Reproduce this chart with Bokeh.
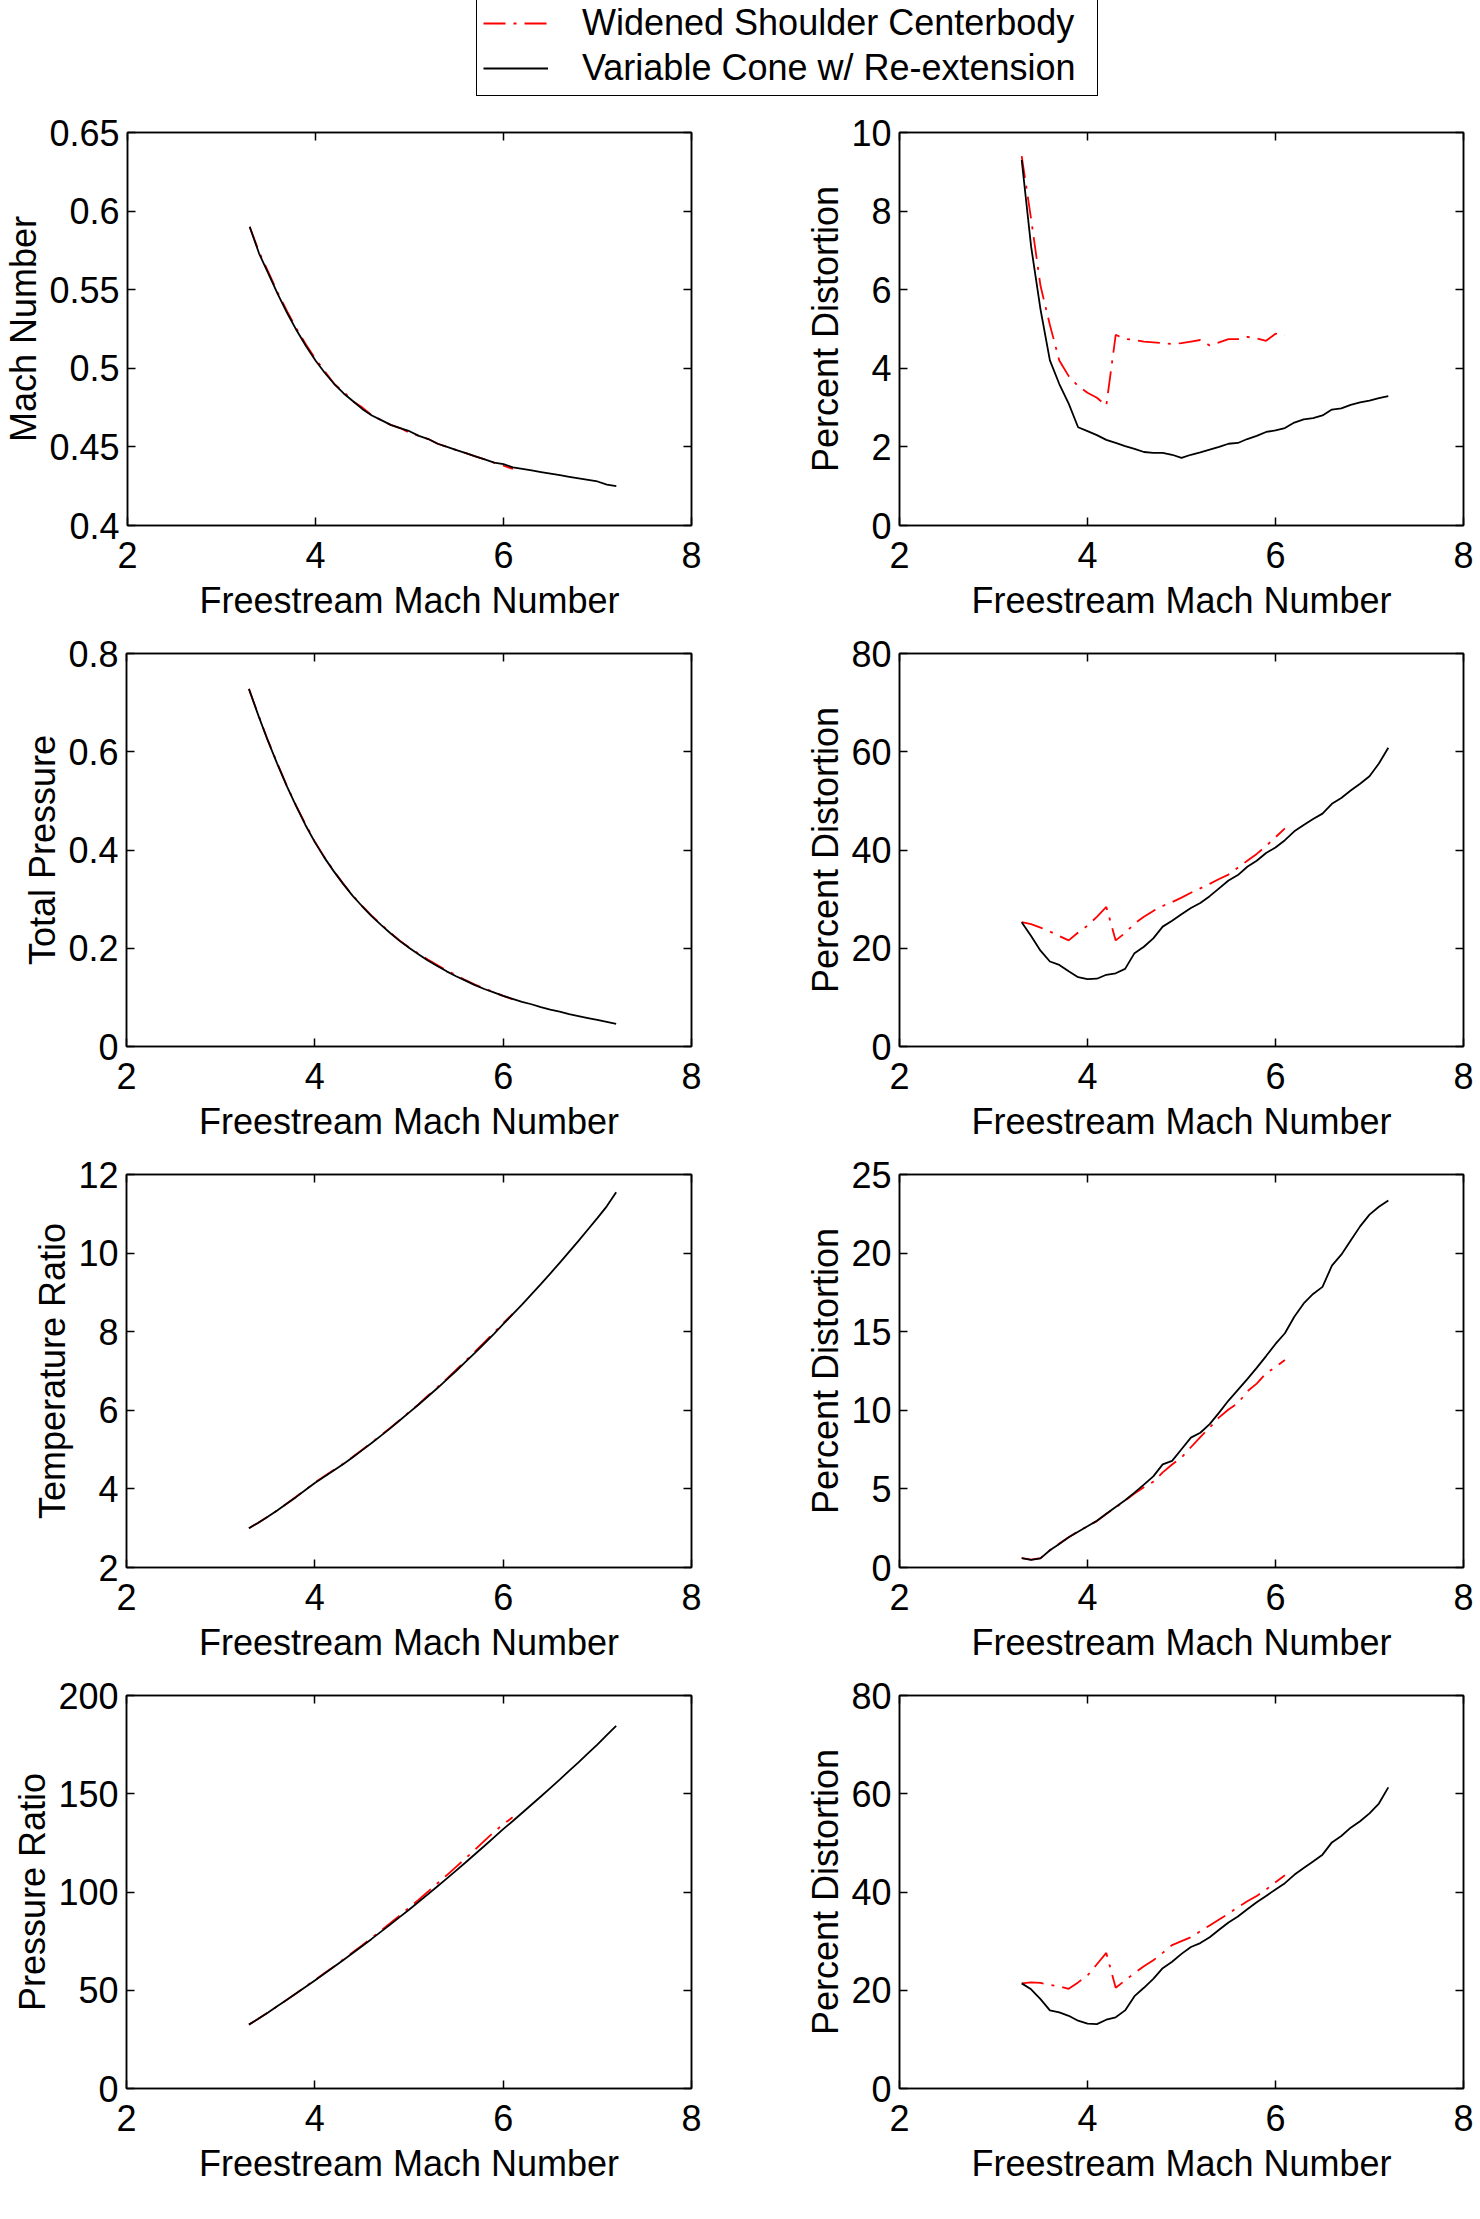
from bokeh.plotting import figure
from bokeh.layouts import column, row
from bokeh.models import (Range1d, FixedTicker, LinearAxis, CustomJSTickFormatter,
                          CustomLabelingPolicy, Legend, LegendItem)
from bokeh.embed import file_html
from bokeh.resources import INLINE

FONT = "Liberation Sans"
FONT_SIZE = "36px"
RED_DASH = "22 8 3 8"
LINE_W = 1.8

# Freestream Mach numbers for each centerbody configuration
mach_ws = [3.3, 3.4, 3.5, 3.6, 3.7, 3.8, 3.9, 4.0, 4.1, 4.2, 4.3, 4.4, 4.5, 4.6, 4.7,
           4.8, 4.9, 5.0, 5.1, 5.2, 5.3, 5.4, 5.5, 5.6, 5.7, 5.8, 5.9, 6.0, 6.1]
mach_vc = [3.3, 3.4, 3.5, 3.6, 3.7, 3.8, 3.9, 4.0, 4.1, 4.2, 4.3, 4.4, 4.5, 4.6, 4.7,
           4.8, 4.9, 5.0, 5.1, 5.2, 5.3, 5.4, 5.5, 5.6, 5.7, 5.8, 5.9, 6.0, 6.1, 6.2,
           6.3, 6.4, 6.5, 6.6, 6.7, 6.8, 6.9, 7.0, 7.1, 7.2]

# Exit Mach number
mach_exit_ws = [0.590, 0.574, 0.561, 0.548, 0.536, 0.525, 0.515, 0.506, 0.498, 0.490,
                0.485, 0.479, 0.475, 0.470, 0.467, 0.464, 0.462, 0.459, 0.457, 0.455,
                0.452, 0.450, 0.448, 0.446, 0.444, 0.442, 0.440, 0.438, 0.436]
mach_exit_vc = [0.590, 0.573, 0.560, 0.547, 0.535, 0.524, 0.514, 0.505, 0.497, 0.490,
                0.484, 0.479, 0.474, 0.470, 0.467, 0.464, 0.462, 0.460, 0.457, 0.455,
                0.452, 0.450, 0.448, 0.446, 0.444, 0.442, 0.440, 0.439, 0.437, 0.436,
                0.435, 0.434, 0.433, 0.432, 0.431, 0.430, 0.429, 0.428, 0.426, 0.425]
mach_dist_ws = [9.40, 7.80, 6.10, 5.10, 4.20, 3.80, 3.55, 3.38, 3.25, 3.05, 4.85, 4.75,
                4.72, 4.68, 4.66, 4.64, 4.62, 4.64, 4.68, 4.72, 4.58, 4.66, 4.74, 4.74,
                4.80, 4.76, 4.70, 4.88, 4.84]
mach_dist_vc = [9.30, 7.10, 5.50, 4.20, 3.60, 3.10, 2.50, 2.40, 2.30, 2.18, 2.10, 2.02,
                1.95, 1.87, 1.85, 1.85, 1.80, 1.72, 1.80, 1.86, 1.93, 2.00, 2.08, 2.10,
                2.20, 2.28, 2.38, 2.42, 2.48, 2.62, 2.70, 2.73, 2.80, 2.95, 2.98, 3.07,
                3.13, 3.18, 3.24, 3.29]

# Total pressure recovery
ptot_ws = [0.728, 0.675, 0.624, 0.577, 0.532, 0.491, 0.453, 0.417, 0.386, 0.358, 0.332,
           0.308, 0.287, 0.267, 0.249, 0.232, 0.216, 0.202, 0.189, 0.177, 0.166, 0.155,
           0.145, 0.135, 0.126, 0.118, 0.111, 0.103, 0.096]
ptot_vc = [0.728, 0.674, 0.623, 0.576, 0.531, 0.490, 0.451, 0.416, 0.385, 0.357, 0.331,
           0.307, 0.286, 0.266, 0.248, 0.231, 0.215, 0.201, 0.188, 0.175, 0.164, 0.153,
           0.143, 0.134, 0.125, 0.117, 0.110, 0.103, 0.097, 0.091, 0.086, 0.080, 0.075,
           0.071, 0.066, 0.062, 0.058, 0.054, 0.050, 0.046]
ptot_dist_ws = [25.3, 24.9, 24.2, 23.4, 22.5, 21.6, 23.2, 24.6, 26.4, 28.4, 21.6, 23.1,
                25.0, 26.4, 27.6, 28.6, 29.4, 30.3, 31.3, 32.2, 33.1, 34.1, 35.0, 36.4,
                37.8, 39.2, 40.8, 42.6, 44.4]
ptot_dist_vc = [25.3, 22.5, 19.5, 17.3, 16.6, 15.3, 14.1, 13.7, 13.8, 14.6, 14.9, 15.8,
                19.0, 20.3, 22.0, 24.4, 25.6, 26.9, 28.2, 29.2, 30.6, 32.2, 33.8, 34.9,
                36.6, 37.8, 39.4, 40.5, 42.0, 43.8, 45.1, 46.3, 47.4, 49.4, 50.6, 52.1,
                53.5, 55.0, 57.6, 60.8]

# Static temperature ratio
temp_ws = [3.00, 3.14, 3.29, 3.45, 3.62, 3.80, 3.98, 4.16, 4.32, 4.48, 4.64, 4.81, 4.99,
           5.17, 5.36, 5.55, 5.75, 5.95, 6.15, 6.37, 6.58, 6.80, 7.03, 7.26, 7.49, 7.73,
           7.97, 8.22, 8.45]
temp_vc = [3.00, 3.14, 3.29, 3.45, 3.62, 3.79, 3.97, 4.15, 4.31, 4.47, 4.63, 4.80, 4.98,
           5.16, 5.35, 5.54, 5.74, 5.94, 6.14, 6.35, 6.56, 6.78, 7.00, 7.23, 7.46, 7.70,
           7.94, 8.19, 8.44, 8.69, 8.95, 9.21, 9.48, 9.75, 10.03, 10.31, 10.60, 10.89,
           11.19, 11.55]
temp_dist_ws = [0.60, 0.50, 0.60, 1.10, 1.52, 1.92, 2.30, 2.62, 2.95, 3.40, 3.82, 4.25,
                4.70, 5.10, 5.45, 6.05, 6.55, 7.00, 7.65, 8.30, 8.90, 9.55, 10.05, 10.45,
                11.20, 11.70, 12.35, 12.75, 13.20]
temp_dist_vc = [0.60, 0.48, 0.58, 1.10, 1.50, 1.92, 2.28, 2.62, 2.98, 3.42, 3.85, 4.28,
                4.76, 5.27, 5.80, 6.56, 6.78, 7.52, 8.26, 8.57, 9.12, 9.85, 10.62, 11.30,
                11.98, 12.70, 13.45, 14.22, 14.90, 15.95, 16.80, 17.40, 17.85, 19.20,
                19.90, 20.80, 21.70, 22.45, 22.95, 23.35]

# Static pressure ratio
pres_ws = [32.5, 35.5, 38.6, 41.8, 45.1, 48.4, 51.8, 55.2, 58.6, 62.0, 65.6, 69.2, 72.8,
           76.5, 80.3, 84.1, 88.0, 92.0, 96.0, 100.1, 104.3, 108.5, 112.8, 117.1, 121.5,
           126.0, 130.4, 134.4, 138.0]
pres_vc = [32.5, 35.5, 38.6, 41.8, 45.0, 48.3, 51.6, 55.0, 58.4, 61.8, 65.3, 68.8, 72.4,
           76.0, 79.7, 83.4, 87.2, 91.0, 94.9, 98.8, 102.8, 106.8, 110.9, 115.0, 119.2,
           123.4, 127.7, 132.0, 136.0, 140.2, 144.4, 148.6, 152.9, 157.2, 161.6, 166.0,
           170.5, 175.0, 179.8, 184.6]
pres_dist_ws = [21.4, 21.6, 21.5, 21.1, 20.8, 20.3, 21.6, 23.0, 25.3, 27.6, 20.5, 22.0,
                23.5, 24.9, 26.1, 27.6, 29.2, 30.0, 30.8, 32.0, 33.2, 34.4, 35.6, 36.9,
                38.1, 39.2, 40.5, 42.0, 43.4]
pres_dist_vc = [21.4, 20.2, 18.2, 15.9, 15.5, 14.8, 13.8, 13.2, 13.1, 14.0, 14.5, 15.9,
                18.8, 20.5, 22.3, 24.5, 25.8, 27.4, 28.8, 29.6, 30.8, 32.3, 33.8, 35.0,
                36.5, 37.9, 39.2, 40.5, 41.8, 43.5, 44.9, 46.2, 47.6, 50.1, 51.4, 53.1,
                54.4, 56.0, 58.0, 61.3]

x_ticks = [2, 4, 6, 8]

LABEL_FMT = CustomJSTickFormatter(code="return tick.toString();")
# box-side axes carry tick marks only: the policy keeps none of their labels
NO_LABELS = CustomLabelingPolicy(code="return [];")


def style_axis(ax, ticker, show_labels):
    ax.ticker = ticker
    ax.formatter = LABEL_FMT
    ax.axis_line_color = "black"
    ax.axis_line_width = 1.5
    ax.major_tick_line_color = "black"
    ax.major_tick_line_width = 1.5
    ax.major_tick_in = 8
    ax.major_tick_out = 0
    ax.minor_tick_line_color = None
    ax.major_label_text_font = FONT
    ax.major_label_text_color = "black"
    ax.axis_label_text_font = FONT
    ax.axis_label_text_font_size = FONT_SIZE
    ax.axis_label_text_font_style = "normal"
    ax.axis_label_text_color = "black"
    if show_labels:
        ax.major_label_text_font_size = FONT_SIZE
    else:
        ax.major_label_policy = NO_LABELS
        ax.major_label_text_font_size = "0px"
        ax.major_label_standoff = 0


def panel(ylabel, y_lo, y_hi, y_ticks, ws_vals, vc_vals, left, right):
    p = figure(width=740, height=521, x_range=Range1d(2, 8), y_range=Range1d(y_lo, y_hi),
               output_backend="svg", toolbar_location=None,
               min_border_left=left, min_border_right=right,
               min_border_top=28, min_border_bottom=100,
               background_fill_color="white", border_fill_color="white")
    p.grid.visible = False
    p.outline_line_color = "black"
    p.outline_line_width = 1.5

    xt = FixedTicker(ticks=x_ticks)
    yt = FixedTicker(ticks=y_ticks)
    style_axis(p.xaxis[0], xt, True)
    style_axis(p.yaxis[0], yt, True)
    p.xaxis[0].axis_label = "Freestream Mach Number"
    p.xaxis[0].major_label_standoff = 16
    p.xaxis[0].axis_label_standoff = 9
    p.yaxis[0].axis_label = ylabel
    p.yaxis[0].major_label_standoff = 8
    p.yaxis[0].axis_label_standoff = 2

    top = LinearAxis()
    style_axis(top, xt, False)
    p.add_layout(top, "above")
    rgt = LinearAxis()
    style_axis(rgt, yt, False)
    p.add_layout(rgt, "right")

    p.line(mach_ws, ws_vals, line_color="#ff0000", line_width=LINE_W, line_dash=RED_DASH)
    p.line(mach_vc, vc_vals, line_color="black", line_width=LINE_W)
    return p


L1, R1 = 126, 49
L2, R2 = 159, 17

p1 = panel("Mach Number", 0.4, 0.65, [0.4, 0.45, 0.5, 0.55, 0.6, 0.65],
           mach_exit_ws, mach_exit_vc, L1, R1)
p2 = panel("Percent Distortion", 0, 10, [0, 2, 4, 6, 8, 10],
           mach_dist_ws, mach_dist_vc, L2, R2)
p3 = panel("Total Pressure", 0, 0.8, [0, 0.2, 0.4, 0.6, 0.8],
           ptot_ws, ptot_vc, L1, R1)
p4 = panel("Percent Distortion", 0, 80, [0, 20, 40, 60, 80],
           ptot_dist_ws, ptot_dist_vc, L2, R2)
p5 = panel("Temperature Ratio", 2, 12, [2, 4, 6, 8, 10, 12],
           temp_ws, temp_vc, L1, R1)
p6 = panel("Percent Distortion", 0, 25, [0, 5, 10, 15, 20, 25],
           temp_dist_ws, temp_dist_vc, L2, R2)
p7 = panel("Pressure Ratio", 0, 200, [0, 50, 100, 150, 200],
           pres_ws, pres_vc, L1, R1)
p8 = panel("Percent Distortion", 0, 80, [0, 20, 40, 60, 80],
           pres_dist_ws, pres_dist_vc, L2, R2)

# Shared legend strip across the top; its line renderers hold no visible points
nan = float("nan")
key = figure(width=1480, height=104, x_range=Range1d(0, 1), y_range=Range1d(0, 1),
             output_backend="svg", toolbar_location=None, min_border=0,
             x_axis_location=None, y_axis_location=None)
key.grid.visible = False
key.outline_line_color = None
r_ws = key.line(x=[nan], y=[nan], line_color="#ff0000", line_width=LINE_W,
                line_dash=RED_DASH)
r_vc = key.line(x=[nan], y=[nan], line_color="black", line_width=LINE_W)
legend = Legend(
    items=[LegendItem(label="Widened Shoulder Centerbody", renderers=[r_ws]),
           LegendItem(label="Variable Cone w/ Re-extension", renderers=[r_vc])],
    location=(476, 8), orientation="vertical",
    label_text_font=FONT, label_text_font_size=FONT_SIZE, label_text_color="black",
    glyph_width=65, glyph_height=20, label_standoff=34, label_width=509,
    label_height=40, padding=6, spacing=3, margin=0,
    border_line_color="black", border_line_width=1.5, border_line_alpha=1.0,
    background_fill_color="white", background_fill_alpha=1.0)
key.add_layout(legend)

layout = column(key, row(p1, p2), row(p3, p4), row(p5, p6), row(p7, p8))

with open("out.html", "w") as fh:
    fh.write(file_html(layout, INLINE, title="Centerbody comparison"))
